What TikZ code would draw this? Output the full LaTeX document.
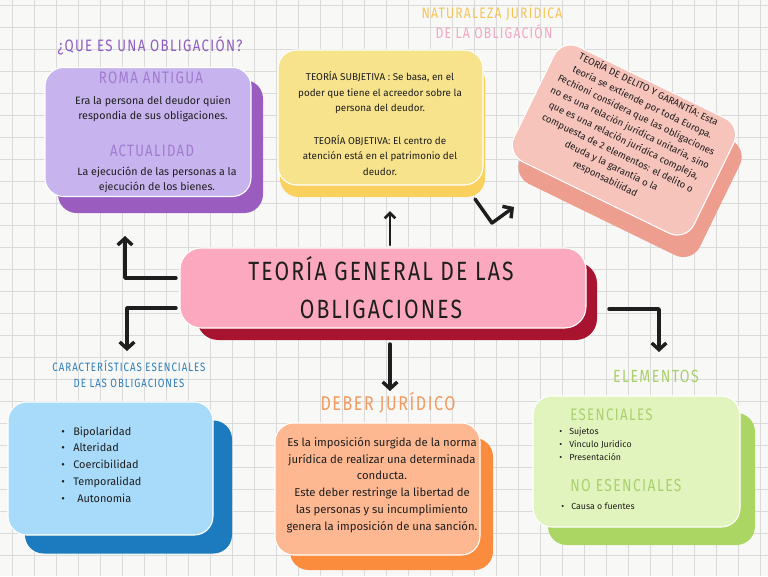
\documentclass[tikz,border=0pt]{standalone}
\usepackage{fontspec}
\setmainfont{Fira Sans}
\newfontfamily\ttl{Fira Sans}[FakeStretch=0.8,LetterSpace=8]
\usetikzlibrary{arrows.meta}
\definecolor{bg}{HTML}{F8F8F6}
\definecolor{gridc}{HTML}{DADADA}
\definecolor{ink}{HTML}{1E1E1E}
\definecolor{ptitle}{HTML}{8E5CC2}
\definecolor{psub}{HTML}{A17BD0}
\definecolor{pfront}{HTML}{C7B3EE}
\definecolor{pshadow}{HTML}{9B5CC0}
\definecolor{yfront}{HTML}{F7E38C}
\definecolor{yshadow}{HTML}{FAD05E}
\definecolor{natY}{HTML}{F6C455}
\definecolor{natP}{HTML}{F2A6C4}
\definecolor{rfront}{HTML}{F6C4BB}
\definecolor{rshadow}{HTML}{EE9E8E}
\definecolor{cfront}{HTML}{FCA8BE}
\definecolor{cshadow}{HTML}{A81430}
\definecolor{btitle}{HTML}{2E7EBA}
\definecolor{bfront}{HTML}{A8DBFA}
\definecolor{bshadow}{HTML}{1B7BBE}
\definecolor{otitle}{HTML}{F29A60}
\definecolor{ofront}{HTML}{FDB892}
\definecolor{oshadow}{HTML}{FB8B3D}
\definecolor{gtitle}{HTML}{A9D06E}
\definecolor{gfront}{HTML}{E2F4BD}
\definecolor{gshadow}{HTML}{ABD663}
\newcommand\fs[2]{\fontsize{#1}{#2}\selectfont}
\tikzset{
  gridline/.style={gridc, line width=0.5pt},
  card/.style={rectangle, rounded corners=14pt, inner sep=0pt, draw=white, line width=0.8pt},
  shade/.style={rectangle, rounded corners=14pt, inner sep=0pt},
  ttlnode/.style={inner sep=0pt, font=\ttl},
  bodytext/.style={inner sep=0pt, align=center, text=ink},
  listtext/.style={inner sep=0pt, align=left, text=ink, anchor=west},
  arr/.style={ink, line width=2.6pt, line cap=round, line join=round, -{Straight Barb[length=5pt,width=11pt]}},
  thinarr/.style={ink, line width=2pt, line cap=round, line join=round, -{Straight Barb[length=4pt,width=8pt]}}
}
\begin{document}
\begin{tikzpicture}[x=0.75pt,y=-0.75pt]
\useasboundingbox (0,0) rectangle (768,576);
\fill[bg] (0,0) rectangle (768,576);
\foreach \x in {12,34,...,760} \draw[gridline] (\x,0) -- (\x,576);
\foreach \y in {5,27,...,576} \draw[gridline] (0,\y) -- (768,\y);

% ---------- purple ----------
\node[ttlnode, text=ptitle, font=\ttl\fs{12.4}{14}] (qtitle) at (150,46) {¿QUE ES UNA OBLIGACIÓN?};
\node[shade, fill=pshadow, minimum width=153.75pt, minimum height=99.75pt] (pshad) at (160.5,146.5) {};
\node[card, fill=pfront, minimum width=154.5pt, minimum height=96.75pt] (pcard) at (148,132) {};
\node[ttlnode, text=psub, font=\ttl\fs{12.5}{14}] (roma) at (151,78) {ROMA ANTIGUA};
\node[bodytext, font=\fs{8}{11.25}] (romatxt) at (153,108.5) {Era la persona del deudor quien\\respondia de sus obligaciones.};
\node[ttlnode, text=psub, font=\ttl\fs{12.3}{14}] (actual) at (152,151) {ACTUALIDAD};
\node[bodytext, font=\fs{8}{11.25}] (acttxt) at (157,180) {La ejecución de las personas a la\\ejecución de los bienes.};

% ---------- yellow ----------
\node[ttlnode, text=natY, font=\ttl\fs{11.4}{13}] (nat1) at (492,13) {NATURALEZA JURÍDICA};
\node[ttlnode, text=natP, font=\ttl\fs{11.4}{13}] (nat2) at (494,32) {DE LA OBLIGACIÓN};
\node[shade, fill=yshadow, minimum width=153.75pt, minimum height=101.25pt] (yshad) at (382.5,129.5) {};
\node[card, fill=yfront, minimum width=153.75pt, minimum height=101.25pt] (ycard) at (380.5,117.5) {};
\node[bodytext, font=\fs{7.4}{11.6}] (ytxt) at (380,123.5) {TEORÍA SUBJETIVA : Se basa, en el\\poder que tiene el acreedor sobre la\\persona del deudor.\\[13pt]TEORÍA OBJETIVA: El centro de\\atención está en el patrimonio del\\deudor.};

% ---------- rotated pink ----------
\node[shade, fill=rshadow, minimum width=150pt, minimum height=96pt, rotate=-26] (rshad) at (630,162) {};
\node[card, fill=rfront, minimum width=150pt, minimum height=96pt, rotate=-26] (rcard) at (624,140) {};
\node[bodytext, font=\fs{7.2}{10.6}, rotate=-26] (rtxt) at (627,134) {TEORÍA DE DELITO Y GARANTÍA: Esta\\teoría se extiende por toda Europa.\\Fechioni considera que las obligaciones\\no es una relación jurídica unitaria, sino\\que es una relación jurídica compleja,\\compuesta de 2 elementos: el delito o\\deuda y la garantía o la\\responsabilidad};

% ---------- central ----------
\node[shade, fill=cshadow, minimum width=300pt, minimum height=58.5pt, rounded corners=16pt] (cshad) at (397,301) {};
\node[card, fill=cfront, minimum width=304.5pt, minimum height=60pt, rounded corners=16pt] (center) at (383,288) {};
\node[bodytext, font=\ttl\fs{19.8}{29}] (ctxt) at (381,287.5) {TEORÍA GENERAL DE LAS\\OBLIGACIONES};

% ---------- blue ----------
\node[ttlnode, text=btitle, font=\ttl\fs{9.1}{10}] (car1) at (129,366) {CARACTERÍSTICAS ESENCIALES};
\node[ttlnode, text=btitle, font=\ttl\fs{9}{10}] (car2) at (129,383) {DE LAS OBLIGACIONES};
\node[shade, fill=bshadow, minimum width=155.25pt, minimum height=99.75pt] (bshad) at (128.5,487) {};
\node[card, fill=bfront, minimum width=153.75pt, minimum height=99.75pt] (bcard) at (110.5,468.5) {};
\node[listtext, font=\fs{8.2}{12.56}] (blist) at (61,464.5) {\makebox[9pt][l]{\textbullet}Bipolaridad\\\makebox[9pt][l]{\textbullet}Alteridad\\\makebox[9pt][l]{\textbullet}Coercibilidad\\\makebox[9pt][l]{\textbullet}Temporalidad\\\makebox[9pt][l]{\textbullet}\hspace{3pt}Autonomia};

% ---------- orange ----------
\node[ttlnode, text=otitle, font=\ttl\fs{15}{16}] (deber) at (388,403) {DEBER JURÍDICO};
\node[shade, fill=oshadow, minimum width=152.25pt, minimum height=99pt] (oshad) at (391.5,504) {};
\node[card, fill=ofront, minimum width=153.75pt, minimum height=99pt] (ocard) at (377.5,489) {};
\node[bodytext, font=\fs{8.5}{12.6}] (otxt) at (382,485) {Es la imposición surgida de la norma\\jurídica de realizar una determinada\\conducta.\\Este deber restringe la libertad de\\las personas y su incumplimiento\\genera la imposición de una sanción.};

% ---------- green ----------
\node[ttlnode, text=gtitle, font=\ttl\fs{13.2}{15}] (elem) at (656,376) {ELEMENTOS};
\node[shade, fill=gshadow, minimum width=155.25pt, minimum height=99pt] (gshad) at (651.5,479) {};
\node[card, fill=gfront, minimum width=155.25pt, minimum height=98.25pt] (gcard) at (636.5,461.5) {};
\node[ttlnode, text=gtitle, font=\ttl\fs{12.5}{14}, anchor=west] (esen) at (570,415) {ESENCIALES};
\node[listtext, font=\fs{6.6}{9.75}] (glist1) at (559,444) {\makebox[7.5pt][l]{\textbullet}Sujetos\\\makebox[7.5pt][l]{\textbullet}Vinculo Juridico\\\makebox[7.5pt][l]{\textbullet}Presentación};
\node[ttlnode, text=gtitle, font=\ttl\fs{13}{14}, anchor=west] (noesen) at (570,486) {NO ESENCIALES};
\node[listtext, font=\fs{6.6}{9.75}] (glist2) at (561,506) {\makebox[7.5pt][l]{\textbullet}Causa o fuentes};

% ---------- arrows ----------
\coordinate (upS) at (390,245);
\coordinate (upE) at (390,211);
\coordinate (chkS) at (475,199);
\coordinate (chkM) at (492,223);
\coordinate (chkE) at (514,207);
\coordinate (ltS) at (176,278);
\coordinate (ltM) at (125,278);
\coordinate (ltE) at (125,236);
\coordinate (lbS) at (176,308);
\coordinate (lbM) at (127,308);
\coordinate (lbE) at (127,351);
\coordinate (rtS) at (609,309);
\coordinate (rtM) at (659,309);
\coordinate (rtE) at (659,352);
\coordinate (dnS) at (390,344);
\coordinate (dnE) at (390,391);
\draw[thinarr] (upS) -- (upE);
\draw[arr] (chkS) -- (chkM) -- (chkE);
\draw[arr] (ltS) -- (ltM) -- (ltE);
\draw[arr] (lbS) -- (lbM) -- (lbE);
\draw[arr] (rtS) -- (rtM) -- (rtE);
\draw[arr] (dnS) -- (dnE);
\end{tikzpicture}
\end{document}
